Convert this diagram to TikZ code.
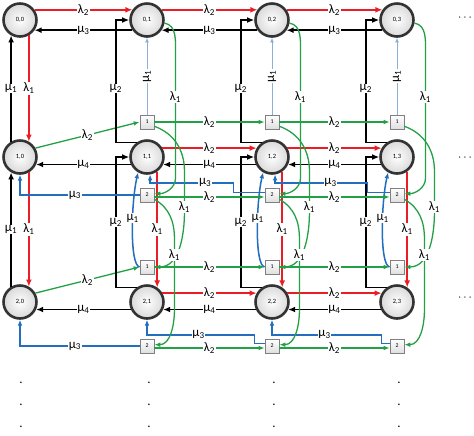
\documentclass[tikz,border=0pt]{standalone}
\usepackage{fontspec}
\setmainfont{Carlito}
\usepackage{xcolor}
\usepackage{tikz}
\usetikzlibrary{arrows.meta}

\definecolor{arcred}{RGB}{235,28,36}
\definecolor{arcgreen}{RGB}{34,160,70}
\definecolor{arcblue}{RGB}{35,110,190}
\definecolor{paleblue}{RGB}{140,175,215}

\newcommand{\lam}[1]{λ\textsubscript{#1}}
\newcommand{\mux}[1]{μ\textsubscript{#1}}

\begin{document}
\begin{tikzpicture}[
        x=0.03cm, y=0.03cm,
        stnode/.style={circle, draw=black!80, line width=2.2pt, minimum size=0.99cm, inner sep=0pt, inner color=white, outer color=gray!30, font=\fontsize{5.5}{6}\selectfont},
        qbox/.style={rectangle, draw=gray, line width=0.8pt, minimum size=0.42cm, inner sep=0pt, top color=white, bottom color=gray!25, font=\fontsize{5}{6}\selectfont},
        lbl/.style={fill=white, text=black, inner sep=0.6pt, font=\fontsize{11}{13}\selectfont},
        redarc/.style={-{Latex[length=6pt,width=5pt]}, line width=1.4pt, arcred},
        blackarc/.style={-{Latex[length=6pt,width=5pt]}, line width=1.4pt, black},
        greenarc/.style={-{Latex[length=5pt,width=4pt]}, line width=1.1pt, arcgreen},
        bluearc/.style={-{Latex[length=5pt,width=4pt]}, line width=1.3pt, arcblue},
        palearc/.style={-{Latex[length=4pt,width=3.5pt]}, line width=0.8pt, paleblue},
        vdots/.style={align=center, inner sep=0pt, font=\fontsize{11}{18.7}\selectfont}
        ]
        \useasboundingbox (0,0) rectangle (474,-435);

        % States
        \node[stnode] (s00) at (20,-20) {0,0};
        \node[stnode] (s01) at (147,-20) {0,1};
        \node[stnode] (s02) at (272,-20) {0,2};
        \node[stnode] (s03) at (397,-20) {0,3};
        \node[stnode] (s10) at (20,-157) {1,0};
        \node[stnode] (s11) at (147,-157) {1,1};
        \node[stnode] (s12) at (272,-157) {1,2};
        \node[stnode] (s13) at (397,-157) {1,3};
        \node[stnode] (s20) at (20,-302) {2,0};
        \node[stnode] (s21) at (147,-302) {2,1};
        \node[stnode] (s22) at (272,-302) {2,2};
        \node[stnode] (s23) at (397,-302) {2,3};

        % Boxes
        \node[qbox] (p11) at (147,-122) {1};
        \node[qbox] (p12) at (272,-122) {1};
        \node[qbox] (p13) at (397,-122) {1};
        \node[qbox] (q11) at (147,-195) {2};
        \node[qbox] (q12) at (272,-195) {2};
        \node[qbox] (q13) at (397,-195) {2};
        \node[qbox] (p21) at (147,-267) {1};
        \node[qbox] (p22) at (272,-267) {1};
        \node[qbox] (p23) at (397,-267) {1};
        \node[qbox] (q21) at (147,-346) {2};
        \node[qbox] (q22) at (272,-346) {2};
        \node[qbox] (q23) at (397,-346) {2};

        % Dots
        \node (h0) at (465,-18) {$\cdots$};
        \node (h1) at (465,-158) {$\cdots$};
        \node (h2) at (465,-298) {$\cdots$};
        \node[vdots] (d0) at (21,-405) {.\\.\\.};
        \node[vdots] (d1) at (149,-405) {.\\.\\.};
        \node[vdots] (d2) at (274,-405) {.\\.\\.};
        \node[vdots] (d3) at (399,-405) {.\\.\\.};

        % Row 0
        \draw[redarc] (s00.35) -- (s01.145) node[lbl, midway] {\lam{2}};
        \draw[redarc] (s01.35) -- (s02.145) node[lbl, midway] {\lam{2}};
        \draw[redarc] (s02.35) -- (s03.145) node[lbl, midway] {\lam{2}};
        \draw[blackarc] (s01.-145) -- (s00.-35) node[lbl, midway] {\mux{3}};
        \draw[blackarc] (s02.-145) -- (s01.-35) node[lbl, midway] {\mux{3}};
        \draw[blackarc] (s03.-145) -- (s02.-35) node[lbl, midway] {\mux{3}};

        % Column 0
        \draw[redarc] (s00.-60) -- (s10.60) node[lbl, midway] {\lam{1}};
        \draw[blackarc] (s10.120) -- (s00.-120) node[lbl, midway] {\mux{1}};
        \draw[redarc] (s10.-60) -- (s20.60) node[lbl, midway] {\lam{1}};
        \draw[blackarc] (s20.120) -- (s10.-120) node[lbl, midway] {\mux{1}};
        \draw[greenarc] (s10.30) -- (p11.west) node[lbl, midway] {\lam{2}};
        \draw[greenarc] (s20.30) -- (p21.west) node[lbl, midway] {\lam{2}};

        % Rows 1 and 2
        \draw[blackarc] (s11.205) -- (s10.-25) node[lbl, midway] {\mux{4}};
        \draw[blackarc] (s12.205) -- (s11.-25) node[lbl, midway] {\mux{4}};
        \draw[blackarc] (s13.205) -- (s12.-25) node[lbl, midway] {\mux{4}};
        \draw[blackarc] (s21.205) -- (s20.-25) node[lbl, midway] {\mux{4}};
        \draw[blackarc] (s22.205) -- (s21.-25) node[lbl, midway] {\mux{4}};
        \draw[blackarc] (s23.205) -- (s22.-25) node[lbl, midway] {\mux{4}};
        \draw[redarc] (s11.30) -- (s12.150) node[lbl, midway] {\lam{2}};
        \draw[redarc] (s12.30) -- (s13.150) node[lbl, midway] {\lam{2}};
        \draw[redarc] (s21.30) -- (s22.150) node[lbl, midway] {\lam{2}};
        \draw[redarc] (s22.30) -- (s23.150) node[lbl, midway] {\lam{2}};
        \draw[redarc] (s11.-55) -- (s21.55) node[lbl, midway] {\lam{1}};
        \draw[redarc] (s12.-55) -- (s22.55) node[lbl, midway] {\lam{1}};
        \draw[redarc] (s13.-55) -- (s23.55) node[lbl, midway] {\lam{1}};

        % mu2 on the left of each column
        \draw[blackarc] (s11.125) -- ++(-21,0) |- (s01.west) node[lbl, pos=0.22] {\mux{2}};
        \draw[blackarc] (s12.125) -- ++(-21,0) |- (s02.west) node[lbl, pos=0.22] {\mux{2}};
        \draw[blackarc] (s13.125) -- ++(-21,0) |- (s03.west) node[lbl, pos=0.22] {\mux{2}};
        \draw[blackarc] (s21.125) -- ++(-21,0) |- (s11.west) node[lbl, pos=0.25] {\mux{2}};
        \draw[blackarc] (s22.125) -- ++(-21,0) |- (s12.west) node[lbl, pos=0.25] {\mux{2}};
        \draw[blackarc] (s23.125) -- ++(-21,0) |- (s13.west) node[lbl, pos=0.25] {\mux{2}};

        % mu1 from boxes 1
        \draw[palearc] (p11.north) -- (s01.south) node[lbl, midway, sloped] {\mux{1}};
        \draw[palearc] (p12.north) -- (s02.south) node[lbl, midway, sloped] {\mux{1}};
        \draw[palearc] (p13.north) -- (s03.south) node[lbl, midway, sloped] {\mux{1}};
        \draw[bluearc] (p21.west) .. controls +(-10,2) and +(-7,-30) .. (s11.-120) node[lbl, pos=0.6] {\mux{1}};
        \draw[bluearc] (p22.west) .. controls +(-10,2) and +(-7,-30) .. (s12.-120) node[lbl, pos=0.6] {\mux{1}};
        \draw[bluearc] (p23.west) .. controls +(-10,2) and +(-7,-30) .. (s13.-120) node[lbl, pos=0.6] {\mux{1}};

        % mu3 from boxes 2
        \draw[bluearc] (q11.west) -| (s10.south) node[lbl, pos=0.27] {\mux{3}};
        \draw[bluearc] (q12.160) -- ++(-31,0) -- ++(0,9.5) -| (s11.-80) node[lbl, pos=0.17] {\mux{3}};
        \draw[bluearc] (q13.160) -- ++(-22,0) -- ++(0,9.5) -| (s12.-80) node[lbl, pos=0.2] {\mux{3}};
        \draw[bluearc] (q21.west) -| (s20.south) node[lbl, pos=0.27] {\mux{3}};
        \draw[bluearc] (q22.160) -- ++(-10,0) -- ++(0,8.5) -| (s21.south) node[lbl, pos=0.26] {\mux{3}};
        \draw[bluearc] (q23.160) -- ++(-8,0) -- ++(0,8.5) -| (s22.south) node[lbl, pos=0.26] {\mux{3}};

        % lambda2 between boxes
        \draw[greenarc] (p11.east) -- (p12.west) node[lbl, midway] {\lam{2}};
        \draw[greenarc] (p12.east) -- (p13.west) node[lbl, midway] {\lam{2}};
        \draw[greenarc] (p21.east) -- (p22.west) node[lbl, midway] {\lam{2}};
        \draw[greenarc] (p22.east) -- (p23.west) node[lbl, midway] {\lam{2}};
        \draw[greenarc] (q11.-15) -- (q12.195) node[lbl, midway] {\lam{2}};
        \draw[greenarc] (q12.-15) -- (q13.195) node[lbl, midway] {\lam{2}};
        \draw[greenarc] (q21.-15) -- (q22.195) node[lbl, midway] {\lam{2}};
        \draw[greenarc] (q22.-15) -- (q23.195) node[lbl, midway] {\lam{2}};

        % lambda1 curves on the right of each column
        \draw[greenarc] (s01.-10) to[out=-10, in=90] ++(11,-30) -- ++(0,-125) node[lbl, pos=0.35] {\lam{1}} to[out=-90, in=0] (q11.10);
        \draw[greenarc] (s02.-10) to[out=-10, in=90] ++(11,-30) -- ++(0,-125) node[lbl, pos=0.35] {\lam{1}} to[out=-90, in=0] (q12.10);
        \draw[greenarc] (s03.-10) to[out=-10, in=90] ++(11,-30) -- ++(0,-125) node[lbl, pos=0.35] {\lam{1}} to[out=-90, in=0] (q13.10);
        \draw[greenarc] (p11.-30) to[out=-20, in=90] ++(30,-45) -- ++(0,-40) node[lbl, pos=0.9] {\lam{1}} to[out=-90, in=0] (p21.east);
        \draw[greenarc] (p12.-30) to[out=-20, in=90] ++(30,-45) -- ++(0,-40) node[lbl, pos=0.9] {\lam{1}} to[out=-90, in=0] (p22.east);
        \draw[greenarc] (p13.-30) to[out=-20, in=90] ++(30,-45) -- ++(0,-40) node[lbl, pos=0.9] {\lam{1}} to[out=-90, in=0] (p23.east);
        \draw[greenarc] (q11.-30) to[out=-30, in=90] ++(20,-40) -- ++(0,-70) node[lbl, pos=0.23] {\lam{1}} to[out=-90, in=0] (q21.10);
        \draw[greenarc] (q12.-30) to[out=-30, in=90] ++(20,-40) -- ++(0,-70) node[lbl, pos=0.23] {\lam{1}} to[out=-90, in=0] (q22.10);
        \draw[greenarc] (q13.-30) to[out=-30, in=90] ++(20,-40) -- ++(0,-70) node[lbl, pos=0.23] {\lam{1}} to[out=-90, in=0] (q23.10);
\end{tikzpicture}
\end{document}
